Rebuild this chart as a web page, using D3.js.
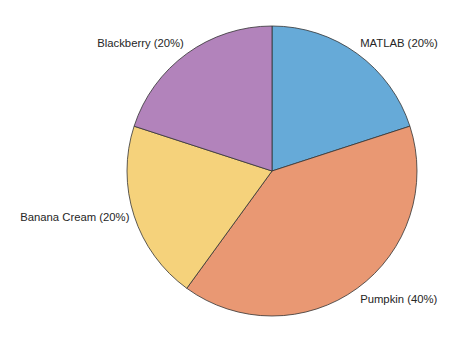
<!DOCTYPE html>
<html>
<head>
<meta charset="utf-8">
<script src="https://cdn.jsdelivr.net/npm/d3@7"></script>
<style>
  body { margin: 0; background: #fff; }
  svg { display: block; }
</style>
</head>
<body>
<svg id="chart" width="474" height="355"></svg>
<script>
// pie data
const labels = ["MATLAB", "Pumpkin", "Banana Cream", "Blackberry"];
const values = [20, 40, 20, 20];
const colors = ["#66aad8", "#e99873", "#f5d27b", "#b283bb"];

const width = 474, height = 355;
const cx = 272, cy = 171, radius = 145;

const svg = d3.select("#chart");
const g = svg.append("g").attr("transform", `translate(${cx},${cy})`);

const data = labels.map((l, i) => ({ label: l, value: values[i], color: colors[i] }));
const total = d3.sum(values);

const pie = d3.pie().value(d => d.value).sort(null);
const arc = d3.arc().innerRadius(0).outerRadius(radius);

const arcs = pie(data);

g.selectAll("path")
  .data(arcs)
  .join("path")
  .attr("d", arc)
  .attr("fill", d => d.data.color)
  .attr("stroke", "#333")
  .attr("stroke-width", 0.8)
  .attr("stroke-linejoin", "round");

// labels just outside the pie
const labelR = radius * 1.034;
g.selectAll("text")
  .data(arcs)
  .join("text")
  .each(function(d) {
    const a = (d.startAngle + d.endAngle) / 2;
    const x = labelR * Math.sin(a);
    const y = -labelR * Math.cos(a);
    const c = Math.cos(a);
    let dy = "0.35em";
    if (c > 0.5) dy = "-0.25em";
    else if (c < -0.5) dy = "0.95em";
    d3.select(this)
      .attr("x", x)
      .attr("y", y)
      .attr("dy", dy)
      .attr("text-anchor", x >= 0 ? "start" : "end");
  })
  .attr("font-family", "'Liberation Sans', Arial, sans-serif")
  .attr("font-size", "11.3px")
  .attr("fill", "#262626")
  .text(d => `${d.data.label} (${Math.round(d.data.value / total * 100)}%)`);
</script>
</body>
</html>
